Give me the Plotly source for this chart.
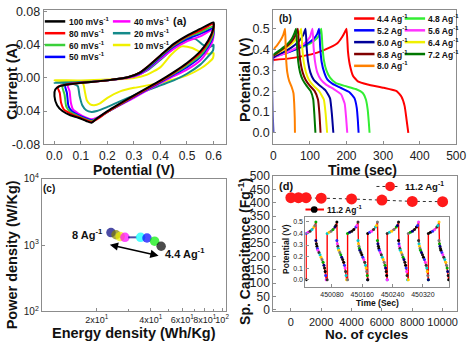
import math
import plotly.graph_objects as go

W, H = 474, 348

# ---------------- (a) cyclic voltammetry ----------------
cv_rates = ["100", "80", "60", "50", "40", "20", "10"]
cv_colors = ["#000000", "#ff0000", "#3ad03a", "#0000ff", "#ff00ff", "#148a8a", "#f0f000"]

cv_v_100 = [0.003, 0.02, 0.05, 0.1, 0.2, 0.28, 0.32, 0.35, 0.4, 0.45, 0.5, 0.55, 0.6,
            0.598, 0.58, 0.55, 0.5, 0.45, 0.4, 0.3, 0.2, 0.16, 0.14, 0.12, 0.09, 0.06, 0.03, 0.01, 0.0, 0.003]
cv_i_100 = [-0.014, -0.010, -0.008, -0.006, -0.003, 0.001, 0.006, 0.013, 0.027, 0.041, 0.051, 0.059, 0.067,
            0.058, 0.045, 0.032, 0.018, 0.007, -0.003, -0.021, -0.040, -0.049, -0.054, -0.052, -0.048, -0.045,
            -0.040, -0.033, -0.022, -0.014]
cv_v_80 = [0.012, 0.03, 0.06, 0.1, 0.2, 0.28, 0.32, 0.35, 0.4, 0.45, 0.5, 0.55, 0.6,
           0.598, 0.58, 0.55, 0.5, 0.45, 0.4, 0.3, 0.2, 0.16, 0.14, 0.12, 0.09, 0.06, 0.035, 0.025, 0.02, 0.012]
cv_i_80 = [-0.011, -0.009, -0.007, -0.006, -0.003, 0.001, 0.006, 0.013, 0.027, 0.040, 0.050, 0.057, 0.065,
           0.056, 0.043, 0.030, 0.017, 0.006, -0.004, -0.022, -0.041, -0.050, -0.053, -0.051, -0.047, -0.043,
           -0.038, -0.030, -0.018, -0.011]
cv_v_60 = [0.03, 0.05, 0.1, 0.2, 0.28, 0.32, 0.35, 0.4, 0.45, 0.5, 0.55, 0.6,
           0.598, 0.58, 0.55, 0.5, 0.45, 0.4, 0.3, 0.2, 0.16, 0.14, 0.12, 0.09, 0.06, 0.045, 0.038, 0.03]
cv_i_60 = [-0.010, -0.008, -0.006, -0.003, 0.001, 0.006, 0.012, 0.026, 0.039, 0.049, 0.055, 0.062,
           0.052, 0.040, 0.027, 0.015, 0.005, -0.004, -0.022, -0.041, -0.049, -0.052, -0.050, -0.046, -0.041,
           -0.035, -0.020, -0.010]
cv_v_50 = [0.04, 0.06, 0.1, 0.2, 0.28, 0.32, 0.35, 0.4, 0.45, 0.5, 0.55, 0.6,
           0.598, 0.58, 0.55, 0.5, 0.45, 0.4, 0.3, 0.2, 0.16, 0.14, 0.12, 0.09, 0.065, 0.053, 0.047, 0.04]
cv_i_50 = [-0.009, -0.007, -0.006, -0.003, 0.001, 0.005, 0.011, 0.025, 0.038, 0.047, 0.053, 0.060,
           0.050, 0.038, 0.025, 0.013, 0.004, -0.005, -0.023, -0.041, -0.049, -0.051, -0.049, -0.045, -0.040,
           -0.034, -0.018, -0.009]
cv_v_40 = [0.05, 0.07, 0.1, 0.2, 0.28, 0.32, 0.35, 0.4, 0.45, 0.5, 0.55, 0.6,
           0.598, 0.58, 0.55, 0.5, 0.45, 0.4, 0.3, 0.2, 0.16, 0.14, 0.12, 0.09, 0.07, 0.062, 0.057, 0.05]
cv_i_40 = [-0.009, -0.007, -0.006, -0.003, 0.0, 0.004, 0.010, 0.023, 0.035, 0.044, 0.050, 0.058,
           0.046, 0.034, 0.021, 0.010, 0.002, -0.006, -0.024, -0.041, -0.048, -0.050, -0.048, -0.043, -0.038,
           -0.030, -0.016, -0.009]
cv_v_20 = [0.0, 0.1, 0.2, 0.3, 0.35, 0.4, 0.45, 0.5, 0.53, 0.56, 0.58, 0.6,
           0.598, 0.58, 0.55, 0.5, 0.45, 0.4, 0.3, 0.2, 0.16, 0.14, 0.12, 0.105, 0.095, 0.088, 0.07, 0.03, 0.0]
cv_i_20 = [-0.006, -0.005, -0.003, 0.002, 0.009, 0.022, 0.036, 0.046, 0.047, 0.040, 0.036, 0.040,
           0.033, 0.026, 0.016, 0.005, -0.003, -0.009, -0.021, -0.035, -0.040, -0.041, -0.039, -0.033,
           -0.022, -0.010, -0.007, -0.006, -0.006]
cv_v_10 = [0.0, 0.1, 0.2, 0.3, 0.35, 0.4, 0.44, 0.48, 0.52, 0.55, 0.58, 0.6,
           0.598, 0.58, 0.55, 0.5, 0.45, 0.4, 0.3, 0.25, 0.2, 0.17, 0.15, 0.135, 0.122, 0.115, 0.108, 0.09,
           0.05, 0.0]
cv_i_10 = [-0.003, -0.003, -0.002, 0.0, 0.004, 0.013, 0.028, 0.038, 0.036, 0.031, 0.029, 0.030,
           0.024, 0.018, 0.011, 0.003, -0.002, -0.006, -0.012, -0.016, -0.024, -0.031, -0.033, -0.032,
           -0.027, -0.017, -0.007, -0.004, -0.004, -0.003]

cv_potential = [cv_v_100, cv_v_80, cv_v_60, cv_v_50, cv_v_40, cv_v_20, cv_v_10]
cv_current = [cv_i_100, cv_i_80, cv_i_60, cv_i_50, cv_i_40, cv_i_20, cv_i_10]

# ---------------- (b) galvanostatic charge / discharge ----------------
gcd_labels = ["4.4", "4.8", "5.2", "5.6", "6.0", "6.4", "6.8", "7.2", "8.0"]
gcd_colors = ["#ff0000", "#33ee33", "#0000ff", "#ff33ff", "#000099", "#f0f000", "#800000", "#007700", "#ff8000"]

gcd_t_44 = [0, 40, 80, 120, 155, 175, 188, 196, 200, 204, 209, 218, 231, 258, 302, 337, 350, 359, 364, 369]
gcd_v_44 = [0.35, 0.356, 0.368, 0.385, 0.41, 0.43, 0.46, 0.485, 0.50, 0.39, 0.327, 0.273, 0.247, 0.232,
            0.216, 0.20, 0.174, 0.128, 0.066, 0.0]
gcd_t_48 = [0, 30, 60, 90, 110, 124, 131, 134, 138, 145, 155, 170, 195, 225, 245, 253, 258, 261, 263]
gcd_v_48 = [0.37, 0.385, 0.40, 0.42, 0.44, 0.465, 0.50, 0.42, 0.35, 0.30, 0.265, 0.24, 0.225, 0.21,
            0.19, 0.16, 0.11, 0.05, 0.0]
gcd_t_52 = [0, 30, 60, 90, 110, 120, 125, 128, 132, 139, 148, 162, 185, 208, 222, 228, 231, 233]
gcd_v_52 = [0.365, 0.38, 0.40, 0.425, 0.45, 0.475, 0.50, 0.41, 0.34, 0.29, 0.255, 0.235, 0.215, 0.195,
            0.165, 0.12, 0.06, 0.0]
gcd_t_56 = [0, 30, 60, 85, 100, 107, 110, 114, 120, 130, 145, 165, 185, 195, 199, 202]
gcd_v_56 = [0.36, 0.38, 0.405, 0.43, 0.46, 0.50, 0.41, 0.34, 0.29, 0.255, 0.23, 0.21, 0.185, 0.14, 0.07, 0.0]
gcd_t_60 = [0, 0, 25, 50, 70, 82, 88, 91, 95, 101, 110, 125, 142, 155, 160, 164]
gcd_v_60 = [0.0, 0.36, 0.385, 0.41, 0.44, 0.47, 0.50, 0.41, 0.34, 0.29, 0.255, 0.23, 0.205, 0.165, 0.09, 0.0]
gcd_t_64 = [0, 25, 45, 62, 72, 76, 79, 83, 89, 97, 110, 125, 138, 143, 147]
gcd_v_64 = [0.37, 0.395, 0.42, 0.45, 0.48, 0.50, 0.41, 0.34, 0.29, 0.255, 0.225, 0.20, 0.16, 0.09, 0.0]
gcd_t_68 = [0, 20, 40, 55, 63, 67, 70, 74, 80, 88, 100, 113, 122, 126, 129]
gcd_v_68 = [0.37, 0.395, 0.42, 0.45, 0.48, 0.50, 0.41, 0.34, 0.29, 0.255, 0.225, 0.20, 0.16, 0.09, 0.0]
gcd_t_72 = [0, 20, 38, 50, 58, 62, 65, 68, 73, 80, 91, 102, 109, 112, 115]
gcd_v_72 = [0.375, 0.40, 0.425, 0.45, 0.48, 0.50, 0.41, 0.34, 0.29, 0.255, 0.225, 0.20, 0.16, 0.09, 0.0]
gcd_t_80 = [0, 10, 20, 27, 32, 33.5, 35, 38, 43, 50, 55, 57, 58.5, 59]
gcd_v_80 = [0.40, 0.42, 0.445, 0.47, 0.50, 0.42, 0.35, 0.29, 0.25, 0.22, 0.19, 0.14, 0.07, 0.0]

gcd_time = [gcd_t_44, gcd_t_48, gcd_t_52, gcd_t_56, gcd_t_60, gcd_t_64, gcd_t_68, gcd_t_72, gcd_t_80]
gcd_volt = [gcd_v_44, gcd_v_48, gcd_v_52, gcd_v_56, gcd_v_60, gcd_v_64, gcd_v_68, gcd_v_72, gcd_v_80]

# ---------------- (c) Ragone plot ----------------
rag_current = ["8.0", "7.2", "6.8", "6.4", "6.0", "5.6", "5.2", "4.8", "4.4"]
rag_energy = [24.0, 25.6, 27.0, 28.7, 31.6, 35.1, 38.1, 42.0, 45.7]
rag_power = [1540, 1430, 1340, 1306, 1306, 1306, 1276, 1143, 958]
rag_colors = ["#000080", "#808000", "#f0f000", "#ff00ff", "#000080", "#00ffff", "#0000ff", "#00ee00", "#000000"]

# ---------------- (d) cycling stability ----------------
cyc_number = [0, 500, 1000, 2000, 4000, 6000, 8000, 10000]
cyc_capacitance = [419, 419, 419, 417, 414, 410, 405, 404]

# inset: repeated charge/discharge cycles (start, peak, end times in s)
inset_start = [450011.8, 450067.3, 450121.2, 450174.4, 450225.8, 450281.5, 450334.4]
inset_peak = [450037.5, 450092.9, 450148.6, 450200.0, 450255.7, 450308.6, 450362.5]
inset_end = [450064.7, 450118.6, 450174.3, 450225.6, 450279.6, 450334.3, 450388.0]
charge_frac = [0.0, 0.0, 0.2, 0.4, 0.6, 0.8, 0.9, 1.0]
charge_volt = [0.0, 0.40, 0.41, 0.42, 0.435, 0.455, 0.47, 0.50]
discharge_frac = [0.0, 0.05, 0.1, 0.15, 0.2, 0.3, 0.4, 0.5, 0.6, 0.7, 0.78, 0.84, 0.9, 0.95, 1.0]
discharge_volt = [0.34, 0.31, 0.29, 0.27, 0.255, 0.235, 0.215, 0.195, 0.175, 0.15, 0.125, 0.10, 0.07,
                  0.035, 0.0]
inset_ticks = [450080, 450160, 450240, 450320]

TITLE_FONT = "Liberation Sans, Arial, sans-serif"
TICK_FONT = "Liberation Sans, Arial, sans-serif"
AX = "#8c8c8c"


def px(x):
    return x / W


def py(y):
    return 1 - y / H


fig = go.Figure()

# (a) loops, slowest scan first so the fast ones sit on top
for k in reversed(range(len(cv_rates))):
    fig.add_trace(go.Scatter(x=cv_potential[k], y=cv_current[k], mode="lines",
                             line=dict(color=cv_colors[k], width=2, shape="spline", smoothing=0.6),
                             xaxis="x", yaxis="y", showlegend=False))

# (b) curves
for k in range(len(gcd_labels)):
    fig.add_trace(go.Scatter(x=gcd_time[k], y=gcd_volt[k], mode="lines",
                             line=dict(color=gcd_colors[k], width=2, shape="spline", smoothing=0.4),
                             xaxis="x2", yaxis="y2", showlegend=False))

# (c) Ragone points
symbols = ["line-ew" if c == "6.0" else "circle" for c in rag_current]
sizes = [6 if c == "6.0" else 9.5 for c in rag_current]
lw = [2 if c == "6.0" else 0 for c in rag_current]
fig.add_trace(go.Scatter(x=rag_energy, y=rag_power, mode="markers",
                         marker=dict(color=rag_colors, size=sizes, symbol=symbols,
                                     line=dict(color=rag_colors, width=lw)),
                         xaxis="x3", yaxis="y3", showlegend=False))

# (d) capacitance retention
fig.add_trace(go.Scatter(x=cyc_number, y=cyc_capacitance, mode="lines",
                         line=dict(color="#333333", width=1, dash="dot"),
                         xaxis="x4", yaxis="y4", showlegend=False))
fig.add_trace(go.Scatter(x=cyc_number, y=cyc_capacitance, mode="markers",
                         marker=dict(color="#ff1a1a", size=11),
                         xaxis="x4", yaxis="y4", showlegend=False))

# inset cycles
ins_t, ins_v = [], []
for s, p, e in zip(inset_start, inset_peak, inset_end):
    for f, v in zip(charge_frac, charge_volt):
        ins_t.append(s + f * (p - s))
        ins_v.append(v)
    for f, v in zip(discharge_frac, discharge_volt):
        ins_t.append(p + f * (e - p))
        ins_v.append(v)
dot_palette = ["#000000", "#2b2bff", "#ff33ff", "#333333", "#00cccc", "#ffcc00", "#777777", "#00aa00",
               "#000080", "#111111"]
dot_colors = [dot_palette[i % len(dot_palette)] for i in range(len(ins_t))]
fig.add_trace(go.Scatter(x=ins_t, y=ins_v, mode="lines+markers",
                         line=dict(color="#ff0000", width=1.4),
                         marker=dict(color=dot_colors, size=3),
                         xaxis="x5", yaxis="y5", showlegend=False))


def axis_style(size):
    return dict(showline=True, mirror=True, linecolor=AX, linewidth=1.2, ticks="inside", ticklen=3,
                tickcolor=AX, showgrid=False, zeroline=False, tickangle=0,
                tickfont=dict(family=TICK_FONT, size=size, color="#222222"))


fig.update_layout(
    width=W, height=H, autosize=False,
    margin=dict(l=0, r=0, t=0, b=0),
    paper_bgcolor="white", plot_bgcolor="white",
    xaxis=dict(domain=[px(42), px(229.5)], range=[-0.04, 0.648], anchor="y",
               tickvals=[0, 0.1, 0.2, 0.3, 0.4, 0.5, 0.6],
               ticktext=["0.0", "0.1", "0.2", "0.3", "0.4", "0.5", "0.6"], **axis_style(12)),
    yaxis=dict(domain=[py(143), py(3)], range=[-0.08, 0.082], anchor="x",
               tickvals=[-0.08, -0.04, 0, 0.04, 0.08],
               ticktext=["-0.08", "-0.04", "0.00", "0.04", "0.08"], **axis_style(12.5)),
    xaxis2=dict(domain=[px(278), px(466)], range=[0, 500], anchor="y2",
                tickvals=[0, 100, 200, 300, 400, 500],
                ticktext=["0", "100", "200", "300", "400", "500"], **axis_style(12)),
    yaxis2=dict(domain=[py(143), py(3)], range=[-0.055, 0.59], anchor="x2",
                tickvals=[0, 0.1, 0.2, 0.3, 0.4, 0.5],
                ticktext=["0.0", "0.1", "0.2", "0.3", "0.4", "0.5"], **axis_style(12.5)),
    xaxis3=dict(domain=[px(40), px(229)], type="log", range=[0.995, 2.02], anchor="y3",
                tickvals=[20, 40, 60, 80, 100],
                ticktext=["2x10<sup>1</sup>", "4x10<sup>1</sup>", "6x10<sup>1</sup>",
                          "8x10<sup>1</sup>", "10<sup>2</sup>"],
                minor=dict(ticks="inside", ticklen=2, tickcolor=AX,
                           tickvals=[10, 30, 50, 70, 90]),
                **axis_style(9)),
    yaxis3=dict(domain=[py(317), py(179)], type="log", range=[2, 4], anchor="x3",
                tickvals=[100, 1000, 10000],
                ticktext=["10<sup>2</sup>", "10<sup>3</sup>", "10<sup>4</sup>"],
                **axis_style(10)),
    xaxis4=dict(domain=[px(278), px(467)], range=[-1154, 10962], anchor="y4",
                tickvals=[0, 2000, 4000, 6000, 8000, 10000],
                ticktext=["0", "2000", "4000", "6000", "8000", "10000"], **axis_style(11)),
    yaxis4=dict(domain=[py(317), py(176)], range=[-5, 500], anchor="x4",
                tickvals=list(range(0, 501, 50)),
                ticktext=[str(v) for v in range(0, 501, 50)], **axis_style(12)),
    xaxis5=dict(domain=[px(311), px(459)], range=[450010, 450390], anchor="y5",
                tickvals=inset_ticks, ticktext=[str(v) for v in inset_ticks],
                **axis_style(7)),
    yaxis5=dict(domain=[py(292), py(219)], range=[-0.066, 0.541], anchor="x5",
                tickvals=[0, 0.1, 0.2, 0.3, 0.4, 0.5],
                ticktext=["0.0", "0.1", "0.2", "0.3", "0.4", "0.5"],
                **axis_style(7)),
)

ann = []
shapes = []


def text(x, y, s, size, angle=0, xanchor="center"):
    ann.append(dict(x=px(x), y=py(y), xref="paper", yref="paper", text=s, showarrow=False,
                    xanchor=xanchor, yanchor="middle", textangle=angle,
                    font=dict(family=TITLE_FONT, size=size, color="#111111", weight="bold")))


# axis titles
text(135, 170, "Potential (V)", 14)
text(9, 77, "Current (A)", 14.5, angle=-90)
text(370, 170, "Time (sec)", 14)
text(249, 76, "Potential (V)", 14.5, angle=-90)
text(135, 339.5, "Energy density (Wh/Kg)", 14.5)
text(9, 258, "Power density (W/Kg)", 14.5, angle=-90)
text(374, 341, "No. of cycles", 13.5)
text(248, 255, "Sp. Capacitance (Fg<sup>-1</sup>)", 14, angle=-90)
text(385, 308, "Time (Sec)", 8.5)
text(291, 252, "Potential (V)", 8.5, angle=-90)

# panel tags
text(182, 15, "(a)", 11)
text(290, 12, "(b)", 10)
text(47, 189, "(c)", 10)
text(291, 187, "(d)", 11)

# legend of (a)
rows_a = [15, 27.3, 39.6, 52]
for j, k in enumerate([0, 1, 2, 3]):
    shapes.append(dict(type="line", xref="paper", yref="paper", x0=px(43), x1=px(64),
                       y0=py(rows_a[j]), y1=py(rows_a[j]), line=dict(color=cv_colors[k], width=2.5)))
    text(66, rows_a[j], cv_rates[k] + " mVs<sup>-1</sup>", 8.5, xanchor="left")
for j, k in enumerate([4, 5, 6]):
    shapes.append(dict(type="line", xref="paper", yref="paper", x0=px(113), x1=px(131),
                       y0=py(rows_a[j]), y1=py(rows_a[j]), line=dict(color=cv_colors[k], width=2.5)))
    text(133, rows_a[j], cv_rates[k] + " mVs<sup>-1</sup>", 8.5, xanchor="left")

# legend of (b)
rows_b = [12, 24.3, 36.6, 49, 61.3]
for j, k in enumerate([0, 2, 4, 6, 8]):
    shapes.append(dict(type="line", xref="paper", yref="paper", x0=px(361), x1=px(382),
                       y0=py(rows_b[j]), y1=py(rows_b[j]), line=dict(color=gcd_colors[k], width=2.5)))
    text(383, rows_b[j], gcd_labels[k] + " Ag<sup>-1</sup>", 8.5, xanchor="left")
for j, k in enumerate([1, 3, 5, 7]):
    shapes.append(dict(type="line", xref="paper", yref="paper", x0=px(413), x1=px(434),
                       y0=py(rows_b[j]), y1=py(rows_b[j]), line=dict(color=gcd_colors[k], width=2.5)))
    text(435, rows_b[j], gcd_labels[k] + " Ag<sup>-1</sup>", 8.5, xanchor="left")

# (c) labels and arrow
text(87, 236, "8 Ag<sup>-1</sup>", 11)
text(187, 256, "4.4 Ag<sup>-1</sup>", 11)
ann.append(dict(x=math.log10(44.2), y=math.log10(690), ax=math.log10(23.2), ay=math.log10(1020),
                xref="x3", yref="y3", axref="x3", ayref="y3", showarrow=True, text="",
                arrowhead=2, startarrowhead=2, arrowside="end+start", arrowwidth=1.5,
                arrowsize=1.1, startarrowsize=1.1, arrowcolor="#000000"))

# legend entries of (d)
shapes.append(dict(type="line", xref="paper", yref="paper", x0=px(384), x1=px(407),
                   y0=py(187), y1=py(187), line=dict(color="#333333", width=1, dash="dot")))
shapes.append(dict(type="circle", xref="paper", yref="paper", x0=px(393), x1=px(403),
                   y0=py(192), y1=py(182), fillcolor="#ff1a1a", line=dict(width=0)))
text(411, 187, "11.2 Ag<sup>-1</sup>", 9.5, xanchor="left")
shapes.append(dict(type="line", xref="paper", yref="paper", x0=px(311), x1=px(330),
                   y0=py(211), y1=py(211), line=dict(color="#ff0000", width=2)))
shapes.append(dict(type="circle", xref="paper", yref="paper", x0=px(316.5), x1=px(323.5),
                   y0=py(214.5), y1=py(207.5), fillcolor="#000000", line=dict(width=0)))
text(331, 211, "11.2 Ag<sup>-1</sup>", 8.5, xanchor="left")

fig.update_layout(annotations=ann, shapes=shapes)
fig.write_html("out.html")
